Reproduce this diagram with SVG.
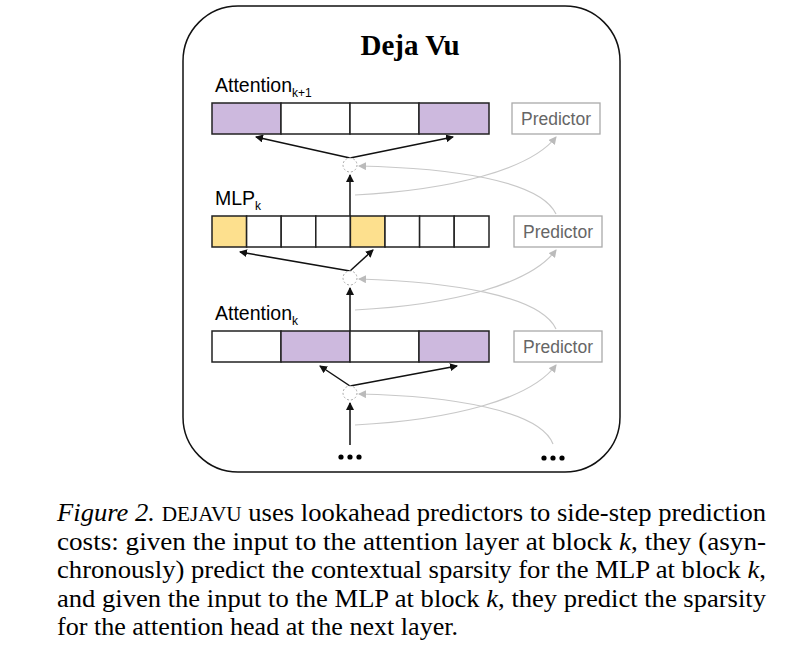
<svg xmlns="http://www.w3.org/2000/svg" width="800" height="657" viewBox="0 0 800 657">
<style>
.lbl{font-family:"Liberation Sans",Arial,sans-serif;font-size:19.5px;fill:#000}
.sub{font-size:12px}
.pred{font-family:"Liberation Sans",Arial,sans-serif;font-size:17.5px;fill:#666}
.pbox{fill:#fff;stroke:#aaa;stroke-width:1.3}
.cell{stroke:#222;stroke-width:1.5}
.blk{stroke:#111;stroke-width:1.5;fill:none;marker-end:url(#ab)}
.gry{stroke:#c8c8c8;stroke-width:1.2;fill:none;marker-end:url(#ag)}
.circ{fill:#fff;stroke:#aaa;stroke-width:1;stroke-dasharray:2 2}
.cap{font-family:"Liberation Serif","Times New Roman",serif;font-size:25px;fill:#000}
</style>
<defs>
<marker id="ab" markerWidth="8" markerHeight="8" refX="7" refY="4" orient="auto" markerUnits="userSpaceOnUse"><path d="M0,0 L8,4 L0,8 Z" fill="#111"/></marker>
<marker id="ag" markerWidth="8" markerHeight="8" refX="7" refY="4" orient="auto" markerUnits="userSpaceOnUse"><path d="M0,0 L8,4 L0,8 Z" fill="#bbb"/></marker>
</defs>
<rect width="800" height="657" fill="#fff"/>
<rect x="183" y="6" width="437" height="466" rx="55" fill="none" stroke="#111" stroke-width="1.5"/>
<text x="410" y="55" text-anchor="middle" font-family="Liberation Serif,serif" font-weight="bold" font-size="29">Deja Vu</text>

<g id="connectors">
<path class="gry" d="M355,195 C450,190 530,170 556,137"/>
<path class="gry" d="M556,214 C540,180 450,168 359,166"/>
<path class="gry" d="M355,310 C450,305 530,285 556,250"/>
<path class="gry" d="M556,329 C540,295 450,282 359,279"/>
<path class="gry" d="M355,425 C450,420 530,400 556,365"/>
<path class="gry" d="M553,444 C540,410 450,396 359,394"/>
<line class="blk" x1="350" y1="445" x2="350" y2="403"/>
<line class="blk" x1="350" y1="386" x2="320" y2="366"/>
<line class="blk" x1="350" y1="386" x2="457" y2="366"/>
<line class="blk" x1="350" y1="331" x2="350" y2="288"/>
<line class="blk" x1="350" y1="271" x2="240" y2="252"/>
<line class="blk" x1="350" y1="271" x2="373" y2="250"/>
<line class="blk" x1="350" y1="216" x2="350" y2="175"/>
<line class="blk" x1="350" y1="158" x2="256" y2="137"/>
<line class="blk" x1="350" y1="158" x2="453" y2="137"/>
</g>

<g id="circles">
<circle class="circ" cx="350" cy="165" r="7"/>
<circle class="circ" cx="350" cy="278" r="7"/>
<circle class="circ" cx="350" cy="393" r="7"/>
</g>

<g id="attention-k1">
<text class="lbl" x="215" y="92">Attention<tspan class="sub" dy="5">k+1</tspan></text>
<rect class="cell" x="212" y="103" width="69" height="31" fill="#cdb9de"/>
<rect class="cell" x="281" y="103" width="69" height="31" fill="#fff"/>
<rect class="cell" x="350" y="103" width="69" height="31" fill="#fff"/>
<rect class="cell" x="419" y="103" width="70" height="31" fill="#cdb9de"/>
</g>
<g id="predictor-1"><rect class="pbox" x="512" y="103" width="88" height="31"/><text class="pred" x="556" y="125" text-anchor="middle">Predictor</text></g>

<g id="mlp-k">
<text class="lbl" x="215" y="205">MLP<tspan class="sub" dy="5">k</tspan></text>
<rect class="cell" x="212" y="216" width="34.6" height="31" fill="#fde08e"/>
<rect class="cell" x="246.6" y="216" width="34.6" height="31" fill="#fff"/>
<rect class="cell" x="281.2" y="216" width="34.6" height="31" fill="#fff"/>
<rect class="cell" x="315.8" y="216" width="34.6" height="31" fill="#fff"/>
<rect class="cell" x="350.4" y="216" width="34.6" height="31" fill="#fde08e"/>
<rect class="cell" x="385" y="216" width="34.6" height="31" fill="#fff"/>
<rect class="cell" x="419.6" y="216" width="34.6" height="31" fill="#fff"/>
<rect class="cell" x="454.2" y="216" width="34.8" height="31" fill="#fff"/>
</g>
<g id="predictor-2"><rect class="pbox" x="514" y="216" width="88" height="31"/><text class="pred" x="558" y="238" text-anchor="middle">Predictor</text></g>

<g id="attention-k">
<text class="lbl" x="215" y="320">Attention<tspan class="sub" dy="5">k</tspan></text>
<rect class="cell" x="212" y="331" width="69" height="31" fill="#fff"/>
<rect class="cell" x="281" y="331" width="69" height="31" fill="#cdb9de"/>
<rect class="cell" x="350" y="331" width="69" height="31" fill="#fff"/>
<rect class="cell" x="419" y="331" width="70" height="31" fill="#cdb9de"/>
</g>
<g id="predictor-3"><rect class="pbox" x="514" y="331" width="88" height="31"/><text class="pred" x="558" y="353" text-anchor="middle">Predictor</text></g>

<g id="dots" fill="#000">
<circle cx="341" cy="457" r="2.6"/><circle cx="350" cy="457" r="2.6"/><circle cx="359" cy="457" r="2.6"/>
<circle cx="544" cy="458" r="2.6"/><circle cx="553" cy="458" r="2.6"/><circle cx="562" cy="458" r="2.6"/>
</g>

<g id="caption" class="cap">
<text x="57" y="521" textLength="709" lengthAdjust="spacingAndGlyphs"><tspan font-style="italic">Figure 2.</tspan> <tspan font-size="20">DEJAVU</tspan> uses lookahead predictors to side-step prediction</text>
<text x="57" y="549.5" textLength="709" lengthAdjust="spacingAndGlyphs">costs: given the input to the attention layer at block <tspan font-style="italic">k</tspan>, they (asyn-</text>
<text x="57" y="578" textLength="709" lengthAdjust="spacingAndGlyphs">chronously) predict the contextual sparsity for the MLP at block <tspan font-style="italic">k</tspan>,</text>
<text x="57" y="606.5" textLength="709" lengthAdjust="spacingAndGlyphs">and given the input to the MLP at block <tspan font-style="italic">k</tspan>, they predict the sparsity</text>
<text x="57" y="635" textLength="401" lengthAdjust="spacingAndGlyphs">for the attention head at the next layer.</text>
</g>
</svg>
